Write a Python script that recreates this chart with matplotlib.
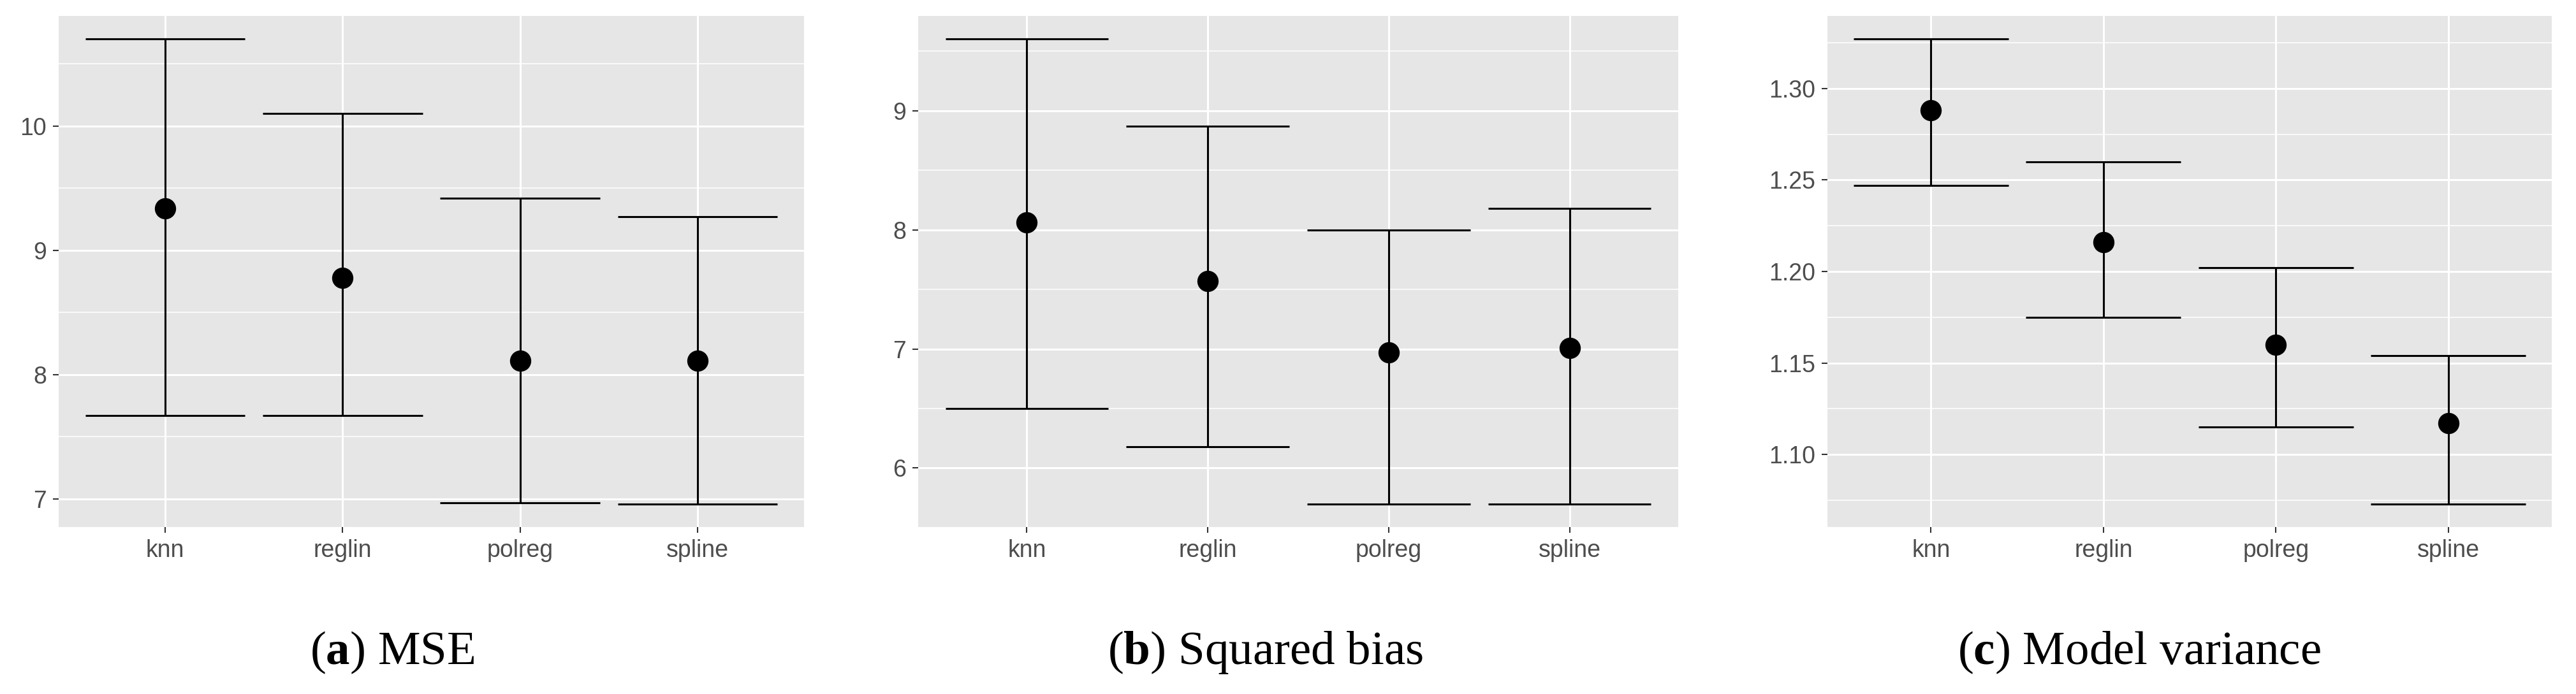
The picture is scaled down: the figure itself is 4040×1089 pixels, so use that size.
import matplotlib
matplotlib.use("Agg")
import matplotlib.pyplot as plt
from matplotlib.ticker import MultipleLocator, FormatStrFormatter

plt.rcParams['font.family'] = ['Liberation Sans', 'DejaVu Sans']
plt.rcParams['mathtext.fontset'] = 'custom'
plt.rcParams['mathtext.rm'] = 'Liberation Serif'
plt.rcParams['mathtext.bf'] = 'Liberation Serif:bold'

models = ['knn', 'reglin', 'polreg', 'spline']

# MSE
mse_mid = [9.34, 8.78, 8.11, 8.11]
mse_low = [7.67, 7.67, 6.97, 6.96]
mse_high = [10.70, 10.10, 9.42, 9.27]

# squared bias
bias_mid = [8.06, 7.57, 6.97, 7.01]
bias_low = [6.50, 6.18, 5.70, 5.70]
bias_high = [9.60, 8.87, 8.00, 8.18]

# model variance
var_mid = [1.288, 1.216, 1.160, 1.117]
var_low = [1.247, 1.175, 1.115, 1.073]
var_high = [1.327, 1.260, 1.202, 1.154]

W, H = 4040, 1089
fig = plt.figure(figsize=(W / 100, H / 100), dpi=100)

panels = [
    (92, 1261, mse_mid, mse_low, mse_high, 1, 0.5, '%g', 615, 'a', 'MSE'),
    (1440, 2632, bias_mid, bias_low, bias_high, 1, 0.5, '%g', 1985, 'b', 'Squared bias'),
    (2866, 4002, var_mid, var_low, var_high, 0.05, 0.025, '%.2f', 3355, 'c', 'Model variance'),
]
top, bottom = 25, 827

for x0, x1, mid, low, high, major, minor, fmt, cx, letter, title in panels:
    ax = fig.add_axes([x0 / W, 1 - bottom / H, (x1 - x0) / W, (bottom - top) / H])
    ax.set_facecolor('#E6E6E6')
    for s in ax.spines.values():
        s.set_visible(False)
    xs = list(range(len(models)))
    ax.vlines(xs, low, high, color='black', lw=2.2, zorder=3)
    ax.hlines(low, [x - 0.45 for x in xs], [x + 0.45 for x in xs], color='black', lw=2.2, zorder=3)
    ax.hlines(high, [x - 0.45 for x in xs], [x + 0.45 for x in xs], color='black', lw=2.2, zorder=3)
    ax.plot(xs, mid, 'o', color='black', ms=23, zorder=4)

    lo, hi = min(low), max(high)
    pad = 0.05 * (hi - lo)
    ax.set_ylim(lo - pad, hi + pad)
    ax.set_xlim(-0.6, len(models) - 0.4)
    ax.set_xticks(xs)
    ax.set_xticklabels(models)
    ax.yaxis.set_major_locator(MultipleLocator(major))
    ax.yaxis.set_minor_locator(MultipleLocator(minor))
    ax.yaxis.set_major_formatter(FormatStrFormatter(fmt))

    ax.set_axisbelow(True)
    ax.grid(which='major', color='white', lw=2.2)
    ax.grid(which='minor', axis='y', color='white', lw=1.1)
    ax.tick_params(which='major', length=6.5, width=1.5, color='#333333',
                   labelsize=27, labelcolor='#4D4D4D', pad=7)
    ax.tick_params(which='minor', length=0)

    fig.text(cx / W, 1 - 1042 / H, r'$\mathrm{(}\mathbf{' + letter + r'}\mathrm{)}$ ' + title,
             ha='center', va='baseline', fontsize=54, family='Liberation Serif')

fig.savefig('out.png', dpi=100)
